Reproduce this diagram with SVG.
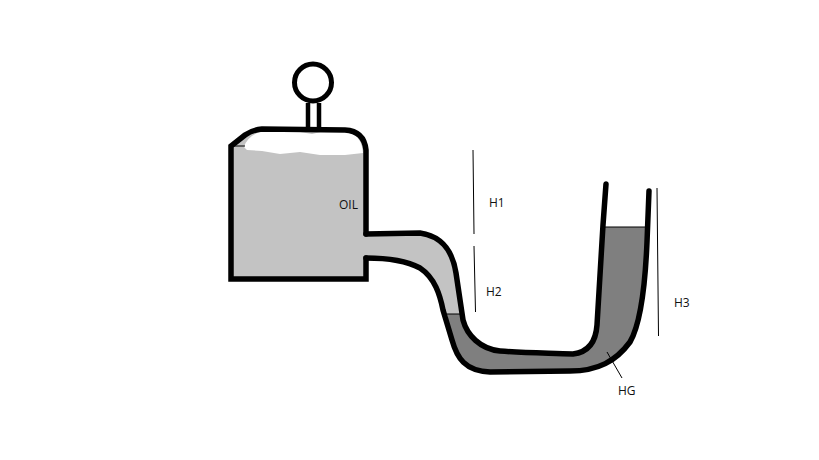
<svg xmlns="http://www.w3.org/2000/svg" width="819" height="460" viewBox="0 0 819 460">
<style>
.o{fill:none;stroke:#000;stroke-width:5.500;stroke-linecap:round;stroke-linejoin:miter}
.t{fill:none;stroke:#000;stroke-width:1}
text{font-family:"Open Sans","Liberation Sans",sans-serif;font-size:12px;fill:#111}
</style>
<rect width="819" height="460" fill="#fff"/>
<path d="M231 146 L245 135 Q252 130 262 129 L345 130 Q364 131 366 150 L366 279 L231 279Z" fill="#c3c3c3"/>
<path d="M366 235 L420 233 C440 236 452 248 456 273 L463 316 L447 316 C440 295 435 278 420 268 C405 260 385 259 366 258Z" fill="#c3c3c3"/>
<path d="M244 147 Q247 136 262 131 L300 132 L312 134 L325 131 L345 132 L354 134 Q362 140 363 153 L345 155 L320 155 L300 152 L280 154 L262 151 L247 150Z" fill="#fff"/>
<path d="M447 314 L463 314 C466 335 480 350 500 351 L573 354 C590 352 596 340 597 325 L605 227 L647 227 C646 290 642 325 630 342 C616 361 598 371 570 371 L490 372 C465 371 457 358 452 340Z" fill="#7f7f7f"/>
<g id="tank"><path class="o" d="M366 234 L366 150 Q364 131 345 130 L262 129 Q252 130 245 135 L231 146 L231 279 L366 279 L366 258"/><path class="t" d="M232 146H245"/></g>
<g id="gauge"><circle cx="313" cy="82.500" r="18.500" fill="#fff" stroke="#000" stroke-width="5"/><path fill="none" stroke="#000" stroke-width="4.500" d="M308 103V130M319 103V130"/></g>
<g id="manometer">
<path class="o" d="M366 234 L420 233 C440 236 452 248 456 273 L463 320 C467 335 480 349 500 351 C525 353 550 353 573 354 C590 352 596 340 597 325 L603 225 L606 184"/>
<path class="o" d="M366 258 C385 258 405 260 420 268 C435 278 440 295 443 310 L452 340 C457 358 465 371 490 372 L570 371 C598 371 616 361 630 342 C640 325 645 290 647 242 L649 191"/>
<path class="t" d="M447 314H463M605 227H647"/>
</g>
<g id="connectors"><path class="t" d="M473 150L474 234M474 246L475.500 312M657 188L658.500 336M607 352L622 378"/></g>
<g id="labels">
<text x="339" y="209">OIL</text><text x="489" y="207">H1</text><text x="486" y="296">H2</text><text x="674" y="307">H3</text><text x="618" y="395">HG</text>
</g>
</svg>
